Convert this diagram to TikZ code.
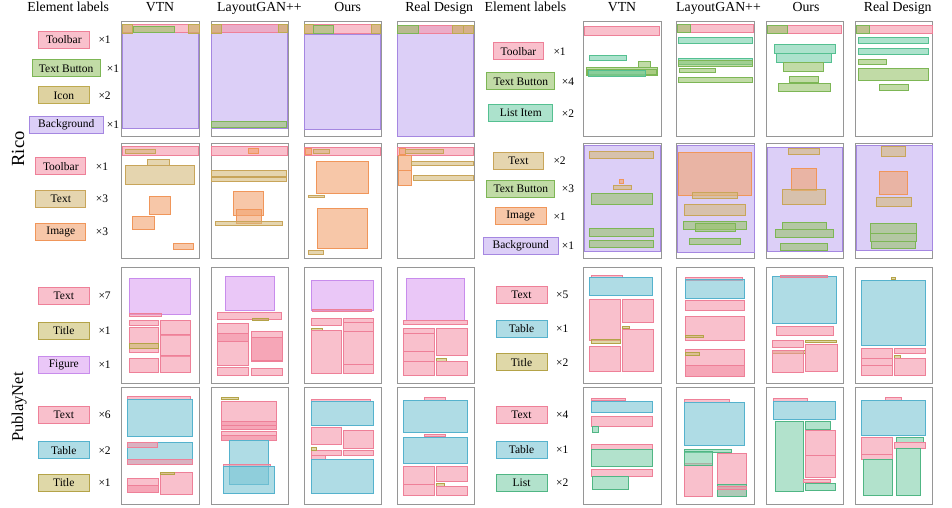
\documentclass[tikz,border=0pt]{standalone}
\usepackage{fontspec}
\setmainfont{Liberation Serif}
\definecolor{tbF}{RGB}{245,150,170}\definecolor{tbL}{RGB}{238,128,152}
\definecolor{btF}{RGB}{153,195,107}\definecolor{btL}{RGB}{125,182,85}
\definecolor{icF}{RGB}{200,180,97}\definecolor{icL}{RGB}{190,170,80}
\definecolor{rtF}{RGB}{213,185,123}\definecolor{rtL}{RGB}{200,165,90}
\definecolor{bgF}{RGB}{197,175,243}\definecolor{bgL}{RGB}{165,135,225}
\definecolor{liF}{RGB}{118,208,170}\definecolor{liL}{RGB}{85,192,145}
\definecolor{imF}{RGB}{242,163,110}\definecolor{imL}{RGB}{240,150,90}
\definecolor{fgF}{RGB}{220,163,243}\definecolor{fgL}{RGB}{200,140,236}
\definecolor{taF}{RGB}{123,197,213}\definecolor{taL}{RGB}{85,178,205}
\definecolor{lsF}{RGB}{127,207,170}\definecolor{lsL}{RGB}{80,182,132}
\definecolor{ttF}{RGB}{203,190,110}\definecolor{ttL}{RGB}{180,163,72}
\definecolor{frameC}{RGB}{150,150,150}
\newcommand\el[5]{\path[#1] (#2,#3) rectangle (#4,#5);}
\newcommand\frm[4]{\draw[panelframe] (#1,#2) rectangle (#3,#4);}
\newcommand\lgd[8]{\node[lgbox,#1,minimum width=#5pt] (#2) at (#3,#4) {#6};
  \node[cnt,anchor=west] (#2n) at (#7,#4) {×#8};}
\tikzset{
  elem/.style={line width=0.95pt,fill opacity=0.6},
  tb/.style={elem,fill=tbF,draw=tbL},
  btn/.style={elem,fill=btF,draw=btL},
  ic/.style={elem,fill=icF,draw=icL},
  rtx/.style={elem,fill=rtF,draw=rtL},
  bg/.style={elem,fill=bgF,draw=bgL},
  li/.style={elem,fill=liF,draw=liL},
  img/.style={elem,fill=imF,draw=imL},
  fig/.style={elem,fill=fgF,draw=fgL},
  tab/.style={elem,fill=taF,draw=taL},
  lst/.style={elem,fill=lsF,draw=lsL},
  ttl/.style={elem,fill=ttF,draw=ttL},
  ptx/.style={elem,fill=tbF,draw=tbL},
  panelframe/.style={draw=frameC,line width=0.95pt},
  lgbox/.style={line width=1.2pt,minimum height=17pt,inner sep=0pt,text opacity=1,
    font=\fontsize{11.5}{12}\selectfont},
  cnt/.style={inner sep=0pt,font=\fontsize{11.5}{12}\selectfont},
  hdr/.style={inner sep=0pt,anchor=base,font=\fontsize{13.8}{15}\selectfont},
  ds/.style={inner sep=0pt,anchor=base,rotate=90}
}
\begin{document}
\begin{tikzpicture}[x=1pt,y=-1pt]
\useasboundingbox (0,0) rectangle (952,507);
\fill[white] (0,0) rectangle (952,507);
% headers
\node[hdr] (h1) at (68.2,11) {Element labels};
\node[hdr] (h2) at (160,11) {VTN};
\node[hdr] (h3) at (259.5,11) {LayoutGAN++};
\node[hdr] (h4) at (347.7,11) {Ours};
\node[hdr] (h5) at (439.2,11) {Real Design};
\node[hdr] (h6) at (525.5,11) {Element labels};
\node[hdr] (h7) at (622,11) {VTN};
\node[hdr] (h8) at (718.5,11) {LayoutGAN++};
\node[hdr] (h9) at (806,11) {Ours};
\node[hdr] (h10) at (897.7,11) {Real Design};
\node[ds,font=\fontsize{18.5}{20}\selectfont] (rico) at (24,149) {Rico};
\node[ds,font=\fontsize{16.5}{18}\selectfont] (pub) at (23,407) {PublayNet};
% legends
\lgd{tb}{a1}{63.8}{39.7}{51}{Toolbar}{98.3}{1}
\lgd{btn}{a2}{66.2}{68.3}{67.7}{Text Button}{106.7}{1}
\lgd{ic}{a3}{63.8}{95.3}{51}{Icon}{98.3}{2}
\lgd{bg}{a4}{66.3}{124.7}{74}{Background}{106.7}{1}
\lgd{tb}{b1}{518.5}{51.2}{50.3}{Toolbar}{553.3}{1}
\lgd{btn}{b2}{520.8}{81.3}{67.7}{Text Button}{561.7}{4}
\lgd{li}{b3}{520.8}{113.2}{64.3}{List Item}{561.7}{2}
\lgd{tb}{c1}{60.8}{166.2}{50.3}{Toolbar}{95.7}{1}
\lgd{rtx}{c2}{60.8}{199}{50.3}{Text}{95.7}{3}
\lgd{img}{c3}{60.8}{231.7}{50.3}{Image}{95.7}{3}
\lgd{rtx}{d1}{518.5}{160.7}{50.3}{Text}{553.3}{2}
\lgd{btn}{d2}{520.8}{189}{67.7}{Text Button}{561.7}{3}
\lgd{img}{d3}{520.7}{216.3}{50.7}{Image}{553.3}{1}
\lgd{bg}{d4}{520.7}{245.8}{74.7}{Background}{561.7}{1}
\lgd{ptx}{e1}{63.8}{296}{51}{Text}{98.3}{7}
\lgd{ttl}{e2}{63.8}{330.5}{51}{Title}{98.3}{1}
\lgd{fig}{e3}{63.8}{364.5}{51}{Figure}{98.3}{1}
\lgd{ptx}{f1}{521.5}{294.5}{51}{Text}{556}{5}
\lgd{tab}{f2}{521.5}{328.8}{51}{Table}{556}{1}
\lgd{ttl}{f3}{521.5}{362.2}{51}{Title}{556}{2}
\lgd{ptx}{g1}{63.8}{415}{51}{Text}{98.3}{6}
\lgd{tab}{g2}{63.8}{450.2}{51}{Table}{98.3}{2}
\lgd{ttl}{g3}{63.8}{482.8}{51}{Title}{98.3}{1}
\lgd{ptx}{k1}{521.5}{415}{51}{Text}{556}{4}
\lgd{tab}{k2}{521.5}{449.5}{51}{Table}{556}{1}
\lgd{lst}{k3}{521.5}{483}{51}{List}{556}{2}
% ---------- row 1 left
\begin{scope}[xshift=0pt,yshift=0pt,x=0.33333pt,y=-0.33333pt]
\frm{365}{65}{597}{410}\frm{633}{65}{865}{410}\frm{912}{65}{1144}{410}\frm{1191}{65}{1423}{410}
\el{bg}{367}{97}{595}{385}\el{tb}{367}{73}{597}{97}\el{ic}{367}{73}{397}{100}\el{ic}{565}{73}{597}{100}\el{btn}{401}{78}{523}{97}
\el{bg}{635}{73}{863}{385}\el{tb}{635}{73}{863}{97}\el{ic}{635}{73}{665}{100}\el{ic}{835}{73}{863}{97}\el{btn}{635}{365}{860}{383}
\el{bg}{914}{102}{1140}{388}\el{tb}{914}{73}{1142}{100}\el{ic}{914}{73}{940}{100}\el{ic}{1113}{73}{1142}{100}\el{btn}{940}{75}{1001}{100}
\el{bg}{1193}{75}{1421}{408}\el{tb}{1193}{75}{1421}{101}\el{btn}{1193}{75}{1255}{101}\el{ic}{1357}{75}{1390}{101}\el{ic}{1390}{75}{1420}{101}
\end{scope}
% ---------- row 1 right
\begin{scope}[xshift=476pt,yshift=0pt,x=0.33333pt,y=-0.33333pt]
\frm{322}{65}{555}{410}\frm{602}{65}{835}{410}\frm{871}{65}{1103}{410}\frm{1139}{65}{1370}{410}
\el{tb}{324}{78}{551}{105}\el{li}{341}{165}{452}{181}\el{btn}{488}{185}{524}{203}\el{btn}{331}{203}{545}{225}\el{btn}{335}{207}{540}{222}\el{li}{338}{210}{508}{228}
\el{tb}{604}{73}{833}{98}\el{btn}{604}{73}{642}{98}\el{li}{607}{112}{830}{131}\el{li}{607}{175}{828}{193}\el{btn}{607}{180}{830}{198}\el{btn}{610}{205}{717}{218}\el{btn}{607}{232}{830}{247}
\el{tb}{873}{75}{1097}{100}\el{btn}{873}{75}{933}{100}\el{li}{895}{133}{1078}{160}\el{li}{901}{160}{1066}{187}\el{btn}{923}{187}{1043}{215}\el{btn}{941}{230}{1028}{248}\el{btn}{907}{250}{1063}{273}
\el{tb}{1141}{76}{1368}{100}\el{btn}{1141}{76}{1181}{100}\el{li}{1148}{111}{1357}{130}\el{li}{1148}{145}{1357}{164}\el{btn}{1148}{178}{1232}{193}\el{btn}{1148}{206}{1357}{240}\el{btn}{1209}{253}{1297}{270}
\end{scope}
% ---------- row 2 left
\begin{scope}[xshift=0pt,yshift=-138pt,x=0.33333pt,y=-0.33333pt]
\frm{365}{15}{597}{362}\frm{633}{15}{865}{362}\frm{912}{15}{1144}{362}\frm{1191}{15}{1423}{362}
\el{tb}{367}{25}{595}{52}\el{rtx}{375}{35}{466}{47}\el{rtx}{442}{63}{509}{83}\el{rtx}{377}{83}{584}{139}\el{img}{447}{175}{512}{229}\el{img}{397}{236}{463}{274}\el{img}{519}{317}{581}{335}
\el{tb}{635}{25}{863}{53}\el{img}{744}{30}{776}{47}\el{rtx}{635}{97}{860}{114}\el{rtx}{635}{118}{860}{131}\el{img}{700}{160}{791}{232}\el{img}{709}{213}{785}{257}\el{rtx}{646}{249}{846}{263}
\el{tb}{914}{28}{1141}{53}\el{img}{917}{30}{935}{50}\el{rtx}{940}{33}{987}{47}\el{img}{948}{70}{1106}{167}\el{rtx}{924}{172}{972}{179}\el{img}{951}{212}{1103}{332}\el{rtx}{925}{337}{970}{350}
\el{tb}{1193}{28}{1421}{53}\el{img}{1199}{30}{1217}{50}\el{rtx}{1217}{33}{1330}{47}\el{img}{1196}{52}{1234}{98}\el{rtx}{1234}{69}{1421}{81}\el{img}{1196}{98}{1234}{142}\el{rtx}{1240}{112}{1421}{127}
\end{scope}
% ---------- row 2 right
\begin{scope}[xshift=476pt,yshift=-138pt,x=0.33333pt,y=-0.33333pt]
\frm{322}{15}{555}{362}\frm{602}{15}{835}{362}\frm{871}{15}{1103}{362}\frm{1139}{15}{1370}{362}
\el{bg}{324}{22}{553}{340}\el{rtx}{339}{40}{533}{61}\el{img}{430}{123}{441}{137}\el{rtx}{411}{143}{466}{153}\el{btn}{347}{167}{530}{199}\el{btn}{341}{270}{533}{295}\el{btn}{341}{308}{533}{329}
\el{bg}{604}{22}{835}{343}\el{img}{606}{43}{827}{172}\el{rtx}{649}{162}{784}{182}\el{rtx}{624}{198}{809}{231}\el{btn}{621}{250}{812}{275}\el{btn}{659}{257}{778}{281}\el{btn}{641}{302}{793}{320}
\el{bg}{873}{28}{1098}{340}\el{rtx}{937}{30}{1031}{50}\el{img}{946}{92}{1022}{157}\el{rtx}{920}{155}{1049}{200}\el{btn}{918}{254}{1051}{274}\el{btn}{898}{274}{1071}{298}\el{btn}{914}{317}{1055}{338}
\el{bg}{1141}{22}{1368}{338}\el{rtx}{1216}{25}{1288}{55}\el{img}{1211}{100}{1293}{170}\el{rtx}{1200}{178}{1305}{205}\el{btn}{1183}{256}{1322}{285}\el{btn}{1183}{285}{1322}{310}\el{btn}{1186}{310}{1318}{330}
\end{scope}
% ---------- row 3 left
\begin{scope}[xshift=0pt,yshift=-260pt,x=0.33333pt,y=-0.33333pt]
\frm{365}{22}{597}{370}\frm{633}{22}{865}{370}\frm{912}{22}{1144}{370}\frm{1191}{22}{1423}{370}
\el{fig}{387}{55}{572}{163}\el{ptx}{387}{161}{483}{168}\el{ptx}{387}{180}{476}{195}\el{ptx}{387}{202}{476}{278}\el{ttl}{387}{250}{476}{265}\el{ptx}{481}{182}{572}{226}\el{ptx}{481}{223}{572}{288}\el{ptx}{481}{286}{572}{337}\el{ptx}{387}{295}{476}{337}
\el{fig}{675}{48}{822}{152}\el{ptx}{652}{158}{843}{177}\el{ttl}{758}{175}{806}{181}\el{ptx}{652}{191}{744}{317}\el{ptx}{652}{220}{744}{245}\el{ptx}{753}{214}{846}{305}\el{ptx}{753}{232}{846}{300}\el{ptx}{652}{322}{744}{345}\el{ptx}{753}{324}{846}{345}
\el{fig}{934}{60}{1120}{150}\el{ptx}{936}{147}{1115}{155}\el{ptx}{934}{174}{1025}{197}\el{ptx}{1030}{174}{1120}{187}\el{ptx}{1030}{187}{1120}{213}\el{ttl}{934}{205}{968}{211}\el{ptx}{934}{211}{1025}{340}\el{ptx}{1030}{213}{1120}{313}\el{ptx}{1030}{313}{1120}{340}
\el{fig}{1219}{55}{1394}{180}\el{ptx}{1210}{180}{1403}{194}\el{ptx}{1210}{205}{1304}{220}\el{ptx}{1210}{220}{1304}{275}\el{ptx}{1210}{275}{1304}{303}\el{ptx}{1210}{303}{1304}{345}\el{ptx}{1308}{205}{1403}{287}\el{ttl}{1308}{295}{1340}{303}\el{ptx}{1308}{303}{1403}{345}
\end{scope}
% ---------- row 3 right
\begin{scope}[xshift=476pt,yshift=-260pt,x=0.33333pt,y=-0.33333pt]
\frm{322}{22}{555}{370}\frm{602}{22}{835}{370}\frm{871}{22}{1103}{370}\frm{1139}{22}{1370}{370}
\el{ptx}{345}{45}{438}{51}\el{tab}{341}{52}{530}{105}\el{ptx}{341}{118}{434}{240}\el{ttl}{345}{237}{432}{250}\el{ptx}{439}{118}{533}{186}\el{ttl}{439}{199}{461}{205}\el{ptx}{439}{208}{533}{333}\el{ptx}{341}{260}{434}{333}
\el{ptx}{627}{52}{800}{60}\el{tab}{627}{58}{806}{114}\el{ptx}{627}{120}{806}{152}\el{ptx}{627}{170}{806}{241}\el{ttl}{627}{225}{683}{231}\el{ptx}{627}{268}{806}{348}\el{ttl}{627}{277}{671}{285}\el{ptx}{627}{317}{806}{348}
\el{tab}{889}{48}{1080}{191}\el{ptx}{912}{45}{1055}{53}\el{ptx}{901}{199}{1071}{226}\el{ptx}{889}{240}{983}{263}\el{ttl}{987}{240}{1081}{247}\el{ttl}{889}{271}{987}{279}\el{ptx}{889}{271}{983}{336}\el{ptx}{987}{254}{1083}{333}
\el{ttl}{1246}{51}{1258}{59}\el{tab}{1157}{60}{1348}{256}\el{ptx}{1157}{265}{1250}{295}\el{ptx}{1157}{295}{1250}{316}\el{ptx}{1157}{316}{1250}{345}\el{ptx}{1255}{265}{1348}{281}\el{ttl}{1255}{285}{1273}{294}\el{ptx}{1255}{294}{1348}{345}
\end{scope}
% ---------- row 4 left
\begin{scope}[xshift=0pt,yshift=-380pt,x=0.33333pt,y=-0.33333pt]
\frm{365}{22}{597}{372}\frm{633}{22}{865}{372}\frm{912}{22}{1144}{372}\frm{1191}{22}{1423}{372}
\el{ptx}{383}{50}{572}{58}\el{tab}{383}{58}{576}{170}\el{tab}{381}{186}{576}{253}\el{ptx}{383}{188}{472}{203}\el{ptx}{383}{238}{576}{253}\el{ptx}{383}{296}{476}{337}\el{ptx}{381}{316}{476}{337}\el{ptx}{481}{278}{578}{343}\el{ttl}{481}{276}{524}{284}
\el{ttl}{665}{52}{716}{58}\el{ptx}{665}{65}{828}{147}\el{ptx}{665}{125}{828}{137}\el{ptx}{665}{137}{828}{147}\el{ptx}{665}{155}{828}{180}\el{ptx}{665}{165}{828}{180}\el{tab}{688}{180}{806}{314}\el{ptx}{671}{253}{812}{258}\el{tab}{669}{260}{823}{340}
\el{ptx}{934}{58}{1111}{64}\el{tab}{934}{64}{1120}{137}\el{ptx}{934}{143}{1025}{193}\el{ptx}{1029}{151}{1120}{205}\el{ptx}{934}{210}{1025}{227}\el{ttl}{934}{203}{950}{210}\el{ptx}{934}{227}{975}{237}\el{ptx}{1029}{212}{1120}{225}\el{tab}{934}{238}{1120}{340}
\el{ptx}{1273}{52}{1336}{60}\el{tab}{1210}{62}{1403}{157}\el{ptx}{1273}{162}{1336}{170}\el{tab}{1210}{172}{1403}{250}\el{ptx}{1210}{259}{1304}{313}\el{ptx}{1210}{313}{1304}{347}\el{ptx}{1308}{259}{1403}{305}\el{ttl}{1308}{310}{1334}{318}\el{ptx}{1308}{318}{1403}{347}
\end{scope}
% ---------- row 4 right
\begin{scope}[xshift=476pt,yshift=-380pt,x=0.33333pt,y=-0.33333pt]
\frm{322}{22}{555}{372}\frm{602}{22}{835}{372}\frm{871}{22}{1103}{372}\frm{1139}{22}{1370}{372}
\el{ptx}{346}{55}{447}{60}\el{tab}{346}{65}{528}{97}\el{ptx}{346}{108}{528}{138}\el{lst}{349}{139}{368}{158}\el{ptx}{346}{192}{528}{208}\el{lst}{346}{208}{528}{258}\el{ptx}{346}{268}{528}{288}\el{lst}{349}{290}{458}{328}
\el{ptx}{625}{58}{759}{68}\el{tab}{625}{67}{806}{196}\el{lst}{625}{208}{765}{217}\el{ptx}{625}{250}{710}{350}\el{lst}{625}{213}{710}{256}\el{ptx}{723}{220}{810}{350}\el{lst}{723}{313}{810}{350}\el{ptx}{723}{318}{810}{327}
\el{ptx}{893}{55}{995}{65}\el{tab}{893}{65}{1078}{118}\el{lst}{897}{125}{983}{335}\el{lst}{989}{125}{1063}{147}\el{ptx}{987}{150}{1077}{226}\el{ptx}{987}{226}{1077}{292}\el{ptx}{983}{299}{1063}{307}\el{lst}{989}{309}{1078}{332}
\el{ptx}{1228}{52}{1277}{62}\el{tab}{1155}{62}{1348}{167}\el{ptx}{1155}{172}{1250}{222}\el{ptx}{1155}{222}{1250}{237}\el{lst}{1161}{237}{1250}{347}\el{lst}{1260}{172}{1342}{188}\el{ptx}{1255}{188}{1348}{205}\el{lst}{1260}{205}{1334}{347}
\end{scope}
\end{tikzpicture}
\end{document}
